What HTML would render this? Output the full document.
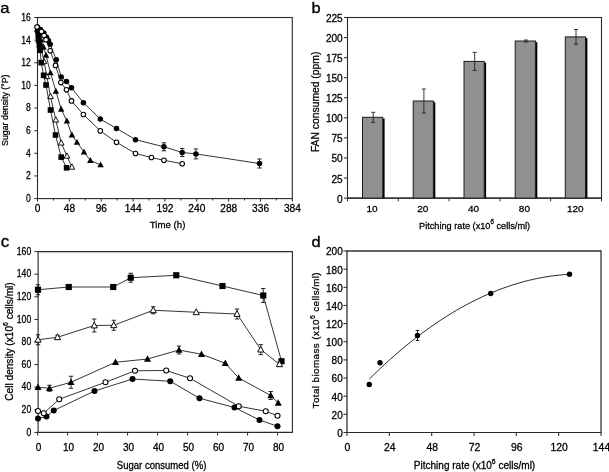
<!DOCTYPE html>
<html lang="en"><head><meta charset="utf-8"><title>Figure</title>
<style>
html,body{margin:0;padding:0;background:#fff;}
svg{display:block;font-family:"Liberation Sans", sans-serif;}
text{fill:#000;stroke:#000;stroke-width:0.28px;}
</style></head><body>
<svg width="609" height="472" viewBox="0 0 609 472">
<rect width="609" height="472" fill="#fff"/>
<rect x="37.5" y="17.5" width="254.80" height="181.10" fill="none" stroke="#2a2a2a" stroke-width="1.1"/>
<line x1="34.30" y1="198.60" x2="37.50" y2="198.60" stroke="#2a2a2a" stroke-width="1.0"/>
<text transform="translate(30.70 202.00) scale(0.86 1)" font-size="10.0" text-anchor="end">0</text>
<line x1="34.30" y1="175.96" x2="37.50" y2="175.96" stroke="#2a2a2a" stroke-width="1.0"/>
<text transform="translate(30.70 179.36) scale(0.86 1)" font-size="10.0" text-anchor="end">2</text>
<line x1="34.30" y1="153.32" x2="37.50" y2="153.32" stroke="#2a2a2a" stroke-width="1.0"/>
<text transform="translate(30.70 156.72) scale(0.86 1)" font-size="10.0" text-anchor="end">4</text>
<line x1="34.30" y1="130.69" x2="37.50" y2="130.69" stroke="#2a2a2a" stroke-width="1.0"/>
<text transform="translate(30.70 134.09) scale(0.86 1)" font-size="10.0" text-anchor="end">6</text>
<line x1="34.30" y1="108.05" x2="37.50" y2="108.05" stroke="#2a2a2a" stroke-width="1.0"/>
<text transform="translate(30.70 111.45) scale(0.86 1)" font-size="10.0" text-anchor="end">8</text>
<line x1="34.30" y1="85.41" x2="37.50" y2="85.41" stroke="#2a2a2a" stroke-width="1.0"/>
<text transform="translate(30.70 88.81) scale(0.86 1)" font-size="10.0" text-anchor="end">10</text>
<line x1="34.30" y1="62.78" x2="37.50" y2="62.78" stroke="#2a2a2a" stroke-width="1.0"/>
<text transform="translate(30.70 66.18) scale(0.86 1)" font-size="10.0" text-anchor="end">12</text>
<line x1="34.30" y1="40.14" x2="37.50" y2="40.14" stroke="#2a2a2a" stroke-width="1.0"/>
<text transform="translate(30.70 43.54) scale(0.86 1)" font-size="10.0" text-anchor="end">14</text>
<line x1="34.30" y1="17.50" x2="37.50" y2="17.50" stroke="#2a2a2a" stroke-width="1.0"/>
<text transform="translate(30.70 20.90) scale(0.86 1)" font-size="10.0" text-anchor="end">16</text>
<line x1="37.50" y1="198.60" x2="37.50" y2="201.60" stroke="#2a2a2a" stroke-width="1.0"/>
<text transform="translate(37.60 212.30) scale(0.97 1)" font-size="10.5" text-anchor="middle">0</text>
<line x1="53.43" y1="198.60" x2="53.43" y2="200.50" stroke="#2a2a2a" stroke-width="1.0"/>
<line x1="69.35" y1="198.60" x2="69.35" y2="201.60" stroke="#2a2a2a" stroke-width="1.0"/>
<text transform="translate(69.45 212.30) scale(0.97 1)" font-size="10.5" text-anchor="middle">48</text>
<line x1="85.28" y1="198.60" x2="85.28" y2="200.50" stroke="#2a2a2a" stroke-width="1.0"/>
<line x1="101.20" y1="198.60" x2="101.20" y2="201.60" stroke="#2a2a2a" stroke-width="1.0"/>
<text transform="translate(101.30 212.30) scale(0.97 1)" font-size="10.5" text-anchor="middle">96</text>
<line x1="117.12" y1="198.60" x2="117.12" y2="200.50" stroke="#2a2a2a" stroke-width="1.0"/>
<line x1="133.05" y1="198.60" x2="133.05" y2="201.60" stroke="#2a2a2a" stroke-width="1.0"/>
<text transform="translate(133.15 212.30) scale(0.97 1)" font-size="10.5" text-anchor="middle">144</text>
<line x1="148.98" y1="198.60" x2="148.98" y2="200.50" stroke="#2a2a2a" stroke-width="1.0"/>
<line x1="164.90" y1="198.60" x2="164.90" y2="201.60" stroke="#2a2a2a" stroke-width="1.0"/>
<text transform="translate(165.00 212.30) scale(0.97 1)" font-size="10.5" text-anchor="middle">192</text>
<line x1="180.83" y1="198.60" x2="180.83" y2="200.50" stroke="#2a2a2a" stroke-width="1.0"/>
<line x1="196.75" y1="198.60" x2="196.75" y2="201.60" stroke="#2a2a2a" stroke-width="1.0"/>
<text transform="translate(196.85 212.30) scale(0.97 1)" font-size="10.5" text-anchor="middle">240</text>
<line x1="212.67" y1="198.60" x2="212.67" y2="200.50" stroke="#2a2a2a" stroke-width="1.0"/>
<line x1="228.60" y1="198.60" x2="228.60" y2="201.60" stroke="#2a2a2a" stroke-width="1.0"/>
<text transform="translate(228.70 212.30) scale(0.97 1)" font-size="10.5" text-anchor="middle">288</text>
<line x1="244.53" y1="198.60" x2="244.53" y2="200.50" stroke="#2a2a2a" stroke-width="1.0"/>
<line x1="260.45" y1="198.60" x2="260.45" y2="201.60" stroke="#2a2a2a" stroke-width="1.0"/>
<text transform="translate(260.55 212.30) scale(0.97 1)" font-size="10.5" text-anchor="middle">336</text>
<line x1="276.38" y1="198.60" x2="276.38" y2="200.50" stroke="#2a2a2a" stroke-width="1.0"/>
<line x1="292.30" y1="198.60" x2="292.30" y2="201.60" stroke="#2a2a2a" stroke-width="1.0"/>
<text transform="translate(292.40 212.30) scale(0.97 1)" font-size="10.5" text-anchor="middle">384</text>
<text transform="translate(167.60 228.30) scale(1 1)" font-size="9.66" text-anchor="middle">Time (h)</text>
<text transform="translate(7.80 110.20) rotate(-90) scale(1 1)" font-size="8.811" text-anchor="middle">Sugar density (°P)</text>
<text transform="translate(4.90 13.00) scale(1.08 1)" font-size="15.4" text-anchor="middle" style="stroke-width:0.32px">a</text>
<polyline points="37.50,27.00 40.50,29.50 43.80,33.00 46.50,37.20 48.40,40.60 50.20,44.30 56.30,59.70 61.20,77.10 66.50,81.50 71.50,87.80 83.40,102.70 100.30,119.10 116.50,128.40 135.50,139.70 163.90,146.80 182.20,152.50 195.90,153.90 259.50,163.50" fill="none" stroke="#111" stroke-width="0.85" stroke-linejoin="round"/>
<line x1="163.90" y1="142.80" x2="163.90" y2="150.80" stroke="#111" stroke-width="0.9"/>
<line x1="161.70" y1="142.80" x2="166.10" y2="142.80" stroke="#111" stroke-width="0.9"/>
<line x1="161.70" y1="150.80" x2="166.10" y2="150.80" stroke="#111" stroke-width="0.9"/>
<line x1="182.20" y1="148.50" x2="182.20" y2="156.50" stroke="#111" stroke-width="0.9"/>
<line x1="180.00" y1="148.50" x2="184.40" y2="148.50" stroke="#111" stroke-width="0.9"/>
<line x1="180.00" y1="156.50" x2="184.40" y2="156.50" stroke="#111" stroke-width="0.9"/>
<line x1="195.90" y1="148.90" x2="195.90" y2="158.90" stroke="#111" stroke-width="0.9"/>
<line x1="193.70" y1="148.90" x2="198.10" y2="148.90" stroke="#111" stroke-width="0.9"/>
<line x1="193.70" y1="158.90" x2="198.10" y2="158.90" stroke="#111" stroke-width="0.9"/>
<line x1="259.50" y1="159.00" x2="259.50" y2="168.00" stroke="#111" stroke-width="0.9"/>
<line x1="257.30" y1="159.00" x2="261.70" y2="159.00" stroke="#111" stroke-width="0.9"/>
<line x1="257.30" y1="168.00" x2="261.70" y2="168.00" stroke="#111" stroke-width="0.9"/>
<circle cx="37.50" cy="27.00" r="2.75" fill="#000"/>
<circle cx="40.50" cy="29.50" r="2.75" fill="#000"/>
<circle cx="43.80" cy="33.00" r="2.75" fill="#000"/>
<circle cx="46.50" cy="37.20" r="2.75" fill="#000"/>
<circle cx="48.40" cy="40.60" r="2.75" fill="#000"/>
<circle cx="50.20" cy="44.30" r="2.75" fill="#000"/>
<circle cx="56.30" cy="59.70" r="2.75" fill="#000"/>
<circle cx="61.20" cy="77.10" r="2.75" fill="#000"/>
<circle cx="66.50" cy="81.50" r="2.75" fill="#000"/>
<circle cx="71.50" cy="87.80" r="2.75" fill="#000"/>
<circle cx="83.40" cy="102.70" r="2.75" fill="#000"/>
<circle cx="100.30" cy="119.10" r="2.75" fill="#000"/>
<circle cx="116.50" cy="128.40" r="2.75" fill="#000"/>
<circle cx="135.50" cy="139.70" r="2.75" fill="#000"/>
<circle cx="163.90" cy="146.80" r="2.75" fill="#000"/>
<circle cx="182.20" cy="152.50" r="2.75" fill="#000"/>
<circle cx="195.90" cy="153.90" r="2.75" fill="#000"/>
<circle cx="259.50" cy="163.50" r="2.75" fill="#000"/>
<polyline points="37.50,29.50 39.00,34.00 41.00,40.00 43.50,47.00 46.00,55.20 50.50,72.80 55.90,91.20 61.20,109.20 66.90,121.00 71.90,135.00 77.00,142.30 84.00,152.00 90.30,160.40 100.60,164.80" fill="none" stroke="#111" stroke-width="0.85" stroke-linejoin="round"/>
<polygon points="37.50,26.10 34.30,32.00 40.70,32.00" fill="#000"/>
<polygon points="39.00,30.60 35.80,36.50 42.20,36.50" fill="#000"/>
<polygon points="41.00,36.60 37.80,42.50 44.20,42.50" fill="#000"/>
<polygon points="43.50,43.60 40.30,49.50 46.70,49.50" fill="#000"/>
<polygon points="46.00,51.80 42.80,57.70 49.20,57.70" fill="#000"/>
<polygon points="50.50,69.40 47.30,75.30 53.70,75.30" fill="#000"/>
<polygon points="55.90,87.80 52.70,93.70 59.10,93.70" fill="#000"/>
<polygon points="61.20,105.80 58.00,111.70 64.40,111.70" fill="#000"/>
<polygon points="66.90,117.60 63.70,123.50 70.10,123.50" fill="#000"/>
<polygon points="71.90,131.60 68.70,137.50 75.10,137.50" fill="#000"/>
<polygon points="77.00,138.90 73.80,144.80 80.20,144.80" fill="#000"/>
<polygon points="84.00,148.60 80.80,154.50 87.20,154.50" fill="#000"/>
<polygon points="90.30,157.00 87.10,162.90 93.50,162.90" fill="#000"/>
<polygon points="100.60,161.40 97.40,167.30 103.80,167.30" fill="#000"/>
<polyline points="37.50,29.00 39.00,37.00 41.00,47.00 44.00,61.50 46.90,76.50 50.50,96.40 55.80,119.90 61.20,142.90 66.90,156.00 71.90,167.00" fill="none" stroke="#111" stroke-width="0.85" stroke-linejoin="round"/>
<polygon points="37.50,25.90 34.70,31.20 40.30,31.20" fill="#fff" stroke="#000" stroke-width="0.95"/>
<polygon points="39.00,33.90 36.20,39.20 41.80,39.20" fill="#fff" stroke="#000" stroke-width="0.95"/>
<polygon points="41.00,43.90 38.20,49.20 43.80,49.20" fill="#fff" stroke="#000" stroke-width="0.95"/>
<polygon points="44.00,58.40 41.20,63.70 46.80,63.70" fill="#fff" stroke="#000" stroke-width="0.95"/>
<polygon points="46.90,73.40 44.10,78.70 49.70,78.70" fill="#fff" stroke="#000" stroke-width="0.95"/>
<polygon points="50.50,93.30 47.70,98.60 53.30,98.60" fill="#fff" stroke="#000" stroke-width="0.95"/>
<polygon points="55.80,116.80 53.00,122.10 58.60,122.10" fill="#fff" stroke="#000" stroke-width="0.95"/>
<polygon points="61.20,139.80 58.40,145.10 64.00,145.10" fill="#fff" stroke="#000" stroke-width="0.95"/>
<polygon points="66.90,152.90 64.10,158.20 69.70,158.20" fill="#fff" stroke="#000" stroke-width="0.95"/>
<polygon points="71.90,163.90 69.10,169.20 74.70,169.20" fill="#fff" stroke="#000" stroke-width="0.95"/>
<polyline points="37.80,30.50 38.20,35.50 38.60,40.50 39.40,45.50 40.20,50.30 41.20,62.60 43.60,75.30 46.00,85.00 50.50,110.00 55.50,135.00 61.20,157.10 66.60,167.80" fill="none" stroke="#111" stroke-width="0.85" stroke-linejoin="round"/>
<rect x="35.00" y="27.70" width="5.60" height="5.60" fill="#000"/>
<rect x="35.40" y="32.70" width="5.60" height="5.60" fill="#000"/>
<rect x="35.80" y="37.70" width="5.60" height="5.60" fill="#000"/>
<rect x="36.60" y="42.70" width="5.60" height="5.60" fill="#000"/>
<rect x="37.40" y="47.50" width="5.60" height="5.60" fill="#000"/>
<rect x="38.40" y="59.80" width="5.60" height="5.60" fill="#000"/>
<rect x="40.80" y="72.50" width="5.60" height="5.60" fill="#000"/>
<rect x="43.20" y="82.20" width="5.60" height="5.60" fill="#000"/>
<rect x="47.70" y="107.20" width="5.60" height="5.60" fill="#000"/>
<rect x="52.70" y="132.20" width="5.60" height="5.60" fill="#000"/>
<rect x="58.40" y="154.30" width="5.60" height="5.60" fill="#000"/>
<rect x="63.80" y="165.00" width="5.60" height="5.60" fill="#000"/>
<polyline points="37.00,27.00 41.50,31.50 44.10,35.60 46.00,39.70 50.20,50.70 55.50,65.40 60.90,82.60 66.50,89.80 71.50,100.90 83.40,114.50 100.30,130.90 116.50,142.30 135.50,153.50 151.40,157.50 163.90,160.30 182.20,163.70" fill="none" stroke="#111" stroke-width="0.85" stroke-linejoin="round"/>
<circle cx="37.00" cy="27.00" r="2.30" fill="#fff" stroke="#000" stroke-width="1.05"/>
<circle cx="41.50" cy="31.50" r="2.30" fill="#fff" stroke="#000" stroke-width="1.05"/>
<circle cx="44.10" cy="35.60" r="2.30" fill="#fff" stroke="#000" stroke-width="1.05"/>
<circle cx="46.00" cy="39.70" r="2.30" fill="#fff" stroke="#000" stroke-width="1.05"/>
<circle cx="50.20" cy="50.70" r="2.30" fill="#fff" stroke="#000" stroke-width="1.05"/>
<circle cx="55.50" cy="65.40" r="2.30" fill="#fff" stroke="#000" stroke-width="1.05"/>
<circle cx="60.90" cy="82.60" r="2.30" fill="#fff" stroke="#000" stroke-width="1.05"/>
<circle cx="66.50" cy="89.80" r="2.30" fill="#fff" stroke="#000" stroke-width="1.05"/>
<circle cx="71.50" cy="100.90" r="2.30" fill="#fff" stroke="#000" stroke-width="1.05"/>
<circle cx="83.40" cy="114.50" r="2.30" fill="#fff" stroke="#000" stroke-width="1.05"/>
<circle cx="100.30" cy="130.90" r="2.30" fill="#fff" stroke="#000" stroke-width="1.05"/>
<circle cx="116.50" cy="142.30" r="2.30" fill="#fff" stroke="#000" stroke-width="1.05"/>
<circle cx="135.50" cy="153.50" r="2.30" fill="#fff" stroke="#000" stroke-width="1.05"/>
<circle cx="151.40" cy="157.50" r="2.30" fill="#fff" stroke="#000" stroke-width="1.05"/>
<circle cx="163.90" cy="160.30" r="2.30" fill="#fff" stroke="#000" stroke-width="1.05"/>
<circle cx="182.20" cy="163.70" r="2.30" fill="#fff" stroke="#000" stroke-width="1.05"/>
<rect x="347.5" y="17.5" width="254.00" height="180.60" fill="none" stroke="#2a2a2a" stroke-width="1.1"/>
<line x1="347.50" y1="198.10" x2="601.50" y2="198.10" stroke="#2a2a2a" stroke-width="1.3"/>
<line x1="344.00" y1="198.10" x2="347.50" y2="198.10" stroke="#2a2a2a" stroke-width="1.0"/>
<text transform="translate(342.70 202.60) scale(0.99 1)" font-size="10.2" text-anchor="end">0</text>
<line x1="344.00" y1="178.03" x2="347.50" y2="178.03" stroke="#2a2a2a" stroke-width="1.0"/>
<text transform="translate(342.70 182.53) scale(0.99 1)" font-size="10.2" text-anchor="end">25</text>
<line x1="344.00" y1="157.97" x2="347.50" y2="157.97" stroke="#2a2a2a" stroke-width="1.0"/>
<text transform="translate(342.70 162.47) scale(0.99 1)" font-size="10.2" text-anchor="end">50</text>
<line x1="344.00" y1="137.90" x2="347.50" y2="137.90" stroke="#2a2a2a" stroke-width="1.0"/>
<text transform="translate(342.70 142.40) scale(0.99 1)" font-size="10.2" text-anchor="end">75</text>
<line x1="344.00" y1="117.83" x2="347.50" y2="117.83" stroke="#2a2a2a" stroke-width="1.0"/>
<text transform="translate(342.70 122.33) scale(0.99 1)" font-size="10.2" text-anchor="end">100</text>
<line x1="344.00" y1="97.77" x2="347.50" y2="97.77" stroke="#2a2a2a" stroke-width="1.0"/>
<text transform="translate(342.70 102.27) scale(0.99 1)" font-size="10.2" text-anchor="end">125</text>
<line x1="344.00" y1="77.70" x2="347.50" y2="77.70" stroke="#2a2a2a" stroke-width="1.0"/>
<text transform="translate(342.70 82.20) scale(0.99 1)" font-size="10.2" text-anchor="end">150</text>
<line x1="344.00" y1="57.63" x2="347.50" y2="57.63" stroke="#2a2a2a" stroke-width="1.0"/>
<text transform="translate(342.70 62.13) scale(0.99 1)" font-size="10.2" text-anchor="end">175</text>
<line x1="344.00" y1="37.57" x2="347.50" y2="37.57" stroke="#2a2a2a" stroke-width="1.0"/>
<text transform="translate(342.70 42.07) scale(0.99 1)" font-size="10.2" text-anchor="end">200</text>
<line x1="344.00" y1="17.50" x2="347.50" y2="17.50" stroke="#2a2a2a" stroke-width="1.0"/>
<text transform="translate(342.70 22.00) scale(0.99 1)" font-size="10.2" text-anchor="end">225</text>
<line x1="347.50" y1="198.10" x2="347.50" y2="201.30" stroke="#2a2a2a" stroke-width="1.0"/>
<line x1="398.30" y1="198.10" x2="398.30" y2="201.30" stroke="#2a2a2a" stroke-width="1.0"/>
<line x1="449.10" y1="198.10" x2="449.10" y2="201.30" stroke="#2a2a2a" stroke-width="1.0"/>
<line x1="499.90" y1="198.10" x2="499.90" y2="201.30" stroke="#2a2a2a" stroke-width="1.0"/>
<line x1="550.70" y1="198.10" x2="550.70" y2="201.30" stroke="#2a2a2a" stroke-width="1.0"/>
<line x1="601.50" y1="198.10" x2="601.50" y2="201.30" stroke="#2a2a2a" stroke-width="1.0"/>
<text transform="translate(372.00 211.70) scale(1.04 1)" font-size="9.6" text-anchor="middle">10</text>
<text transform="translate(422.80 211.70) scale(1.04 1)" font-size="9.6" text-anchor="middle">20</text>
<text transform="translate(473.60 211.70) scale(1.04 1)" font-size="9.6" text-anchor="middle">40</text>
<text transform="translate(524.40 211.70) scale(1.04 1)" font-size="9.6" text-anchor="middle">80</text>
<text transform="translate(575.20 211.70) scale(1.04 1)" font-size="9.6" text-anchor="middle">120</text>
<rect x="382.70" y="118.50" width="1.9" height="79.60" fill="#000"/>
<rect x="362.50" y="117.30" width="20.2" height="80.80" fill="#909090" stroke="#1c1c1c" stroke-width="1"/>
<line x1="373.20" y1="112.30" x2="373.20" y2="122.30" stroke="#222" stroke-width="0.9"/>
<line x1="371.20" y1="112.30" x2="375.20" y2="112.30" stroke="#222" stroke-width="0.9"/>
<line x1="371.20" y1="122.30" x2="375.20" y2="122.30" stroke="#222" stroke-width="0.9"/>
<rect x="433.40" y="102.20" width="1.9" height="95.90" fill="#000"/>
<rect x="413.20" y="101.00" width="20.2" height="97.10" fill="#909090" stroke="#1c1c1c" stroke-width="1"/>
<line x1="423.90" y1="89.00" x2="423.90" y2="113.00" stroke="#222" stroke-width="0.9"/>
<line x1="421.90" y1="89.00" x2="425.90" y2="89.00" stroke="#222" stroke-width="0.9"/>
<line x1="421.90" y1="113.00" x2="425.90" y2="113.00" stroke="#222" stroke-width="0.9"/>
<rect x="484.20" y="62.60" width="1.9" height="135.50" fill="#000"/>
<rect x="464.00" y="61.40" width="20.2" height="136.70" fill="#909090" stroke="#1c1c1c" stroke-width="1"/>
<line x1="474.70" y1="52.40" x2="474.70" y2="70.40" stroke="#222" stroke-width="0.9"/>
<line x1="472.70" y1="52.40" x2="476.70" y2="52.40" stroke="#222" stroke-width="0.9"/>
<line x1="472.70" y1="70.40" x2="476.70" y2="70.40" stroke="#222" stroke-width="0.9"/>
<rect x="535.40" y="42.20" width="1.9" height="155.90" fill="#000"/>
<rect x="515.20" y="41.00" width="20.2" height="157.10" fill="#909090" stroke="#1c1c1c" stroke-width="1"/>
<line x1="525.90" y1="40.00" x2="525.90" y2="42.00" stroke="#222" stroke-width="0.9"/>
<line x1="523.90" y1="40.00" x2="527.90" y2="40.00" stroke="#222" stroke-width="0.9"/>
<line x1="523.90" y1="42.00" x2="527.90" y2="42.00" stroke="#222" stroke-width="0.9"/>
<rect x="585.50" y="38.10" width="1.9" height="160.00" fill="#000"/>
<rect x="565.30" y="36.90" width="20.2" height="161.20" fill="#909090" stroke="#1c1c1c" stroke-width="1"/>
<line x1="576.00" y1="29.50" x2="576.00" y2="44.30" stroke="#222" stroke-width="0.9"/>
<line x1="574.00" y1="29.50" x2="578.00" y2="29.50" stroke="#222" stroke-width="0.9"/>
<line x1="574.00" y1="44.30" x2="578.00" y2="44.30" stroke="#222" stroke-width="0.9"/>
<text transform="translate(474.60 228.60) scale(0.9374 1)" font-size="9.8" text-anchor="middle">Pitching rate (x10<tspan dy="-4.21" font-size="6.66">6</tspan><tspan dy="4.21"> cells/ml)</tspan></text>
<text transform="translate(319.00 101.90) rotate(-90) scale(1 1)" font-size="10.343" text-anchor="middle">FAN consumed (ppm)</text>
<text transform="translate(316.00 12.60) scale(1.08 1)" font-size="15.2" text-anchor="middle" style="stroke-width:0.32px">b</text>
<line x1="38.10" y1="251.05" x2="38.10" y2="432.95" stroke="#333" stroke-width="1.2"/>
<line x1="292.40" y1="251.05" x2="292.40" y2="432.95" stroke="#2a2a2a" stroke-width="1.1"/>
<line x1="38.10" y1="251.60" x2="292.40" y2="251.60" stroke="#2a2a2a" stroke-width="1.1"/>
<line x1="38.10" y1="432.40" x2="292.40" y2="432.40" stroke="#2a2a2a" stroke-width="1.1"/>
<line x1="34.30" y1="432.40" x2="38.10" y2="432.40" stroke="#2a2a2a" stroke-width="1.0"/>
<text transform="translate(31.20 435.60) scale(0.865 1)" font-size="10.0" text-anchor="end">0</text>
<line x1="34.30" y1="409.80" x2="38.10" y2="409.80" stroke="#2a2a2a" stroke-width="1.0"/>
<text transform="translate(31.20 413.00) scale(0.865 1)" font-size="10.0" text-anchor="end">20</text>
<line x1="34.30" y1="387.20" x2="38.10" y2="387.20" stroke="#2a2a2a" stroke-width="1.0"/>
<text transform="translate(31.20 390.40) scale(0.865 1)" font-size="10.0" text-anchor="end">40</text>
<line x1="34.30" y1="364.60" x2="38.10" y2="364.60" stroke="#2a2a2a" stroke-width="1.0"/>
<text transform="translate(31.20 367.80) scale(0.865 1)" font-size="10.0" text-anchor="end">60</text>
<line x1="34.30" y1="342.00" x2="38.10" y2="342.00" stroke="#2a2a2a" stroke-width="1.0"/>
<text transform="translate(31.20 345.20) scale(0.865 1)" font-size="10.0" text-anchor="end">80</text>
<line x1="34.30" y1="319.40" x2="38.10" y2="319.40" stroke="#2a2a2a" stroke-width="1.0"/>
<text transform="translate(31.20 322.60) scale(0.865 1)" font-size="10.0" text-anchor="end">100</text>
<line x1="34.30" y1="296.80" x2="38.10" y2="296.80" stroke="#2a2a2a" stroke-width="1.0"/>
<text transform="translate(31.20 300.00) scale(0.865 1)" font-size="10.0" text-anchor="end">120</text>
<line x1="34.30" y1="274.20" x2="38.10" y2="274.20" stroke="#2a2a2a" stroke-width="1.0"/>
<text transform="translate(31.20 277.40) scale(0.865 1)" font-size="10.0" text-anchor="end">140</text>
<line x1="34.30" y1="251.60" x2="38.10" y2="251.60" stroke="#2a2a2a" stroke-width="1.0"/>
<text transform="translate(31.20 254.80) scale(0.865 1)" font-size="10.0" text-anchor="end">160</text>
<line x1="37.60" y1="432.40" x2="37.60" y2="435.60" stroke="#2a2a2a" stroke-width="1.0"/>
<text transform="translate(38.50 450.80) scale(1.0 1)" font-size="10.0" text-anchor="middle">0</text>
<line x1="67.60" y1="432.40" x2="67.60" y2="435.60" stroke="#2a2a2a" stroke-width="1.0"/>
<text transform="translate(68.50 450.80) scale(1.0 1)" font-size="10.0" text-anchor="middle">10</text>
<line x1="97.60" y1="432.40" x2="97.60" y2="435.60" stroke="#2a2a2a" stroke-width="1.0"/>
<text transform="translate(98.50 450.80) scale(1.0 1)" font-size="10.0" text-anchor="middle">20</text>
<line x1="127.60" y1="432.40" x2="127.60" y2="435.60" stroke="#2a2a2a" stroke-width="1.0"/>
<text transform="translate(128.50 450.80) scale(1.0 1)" font-size="10.0" text-anchor="middle">30</text>
<line x1="157.60" y1="432.40" x2="157.60" y2="435.60" stroke="#2a2a2a" stroke-width="1.0"/>
<text transform="translate(158.50 450.80) scale(1.0 1)" font-size="10.0" text-anchor="middle">40</text>
<line x1="187.60" y1="432.40" x2="187.60" y2="435.60" stroke="#2a2a2a" stroke-width="1.0"/>
<text transform="translate(188.50 450.80) scale(1.0 1)" font-size="10.0" text-anchor="middle">50</text>
<line x1="217.60" y1="432.40" x2="217.60" y2="435.60" stroke="#2a2a2a" stroke-width="1.0"/>
<text transform="translate(218.50 450.80) scale(1.0 1)" font-size="10.0" text-anchor="middle">60</text>
<line x1="247.60" y1="432.40" x2="247.60" y2="435.60" stroke="#2a2a2a" stroke-width="1.0"/>
<text transform="translate(248.50 450.80) scale(1.0 1)" font-size="10.0" text-anchor="middle">70</text>
<line x1="277.60" y1="432.40" x2="277.60" y2="435.60" stroke="#2a2a2a" stroke-width="1.0"/>
<text transform="translate(278.50 450.80) scale(1.0 1)" font-size="10.0" text-anchor="middle">80</text>
<text transform="translate(161.60 469.00) scale(0.9444 1)" font-size="10.1" text-anchor="middle">Sugar consumed (%)</text>
<text transform="translate(12.50 341.50) rotate(-90) scale(1 1)" font-size="10.124" text-anchor="middle">Cell density (x10<tspan dy="-4.35" font-size="6.88">6</tspan><tspan dy="4.35"> cells/ml)</tspan></text>
<text transform="translate(5.10 246.60) scale(1.06 1)" font-size="16.0" text-anchor="middle" style="stroke-width:0.32px">c</text>
<polyline points="38.00,289.75 68.75,287.00 113.25,287.00 130.75,277.75 176.25,275.25 222.50,286.00 263.25,295.50 281.50,361.25" fill="none" stroke="#111" stroke-width="0.85" stroke-linejoin="round"/>
<line x1="38.00" y1="284.75" x2="38.00" y2="294.75" stroke="#111" stroke-width="0.9"/>
<line x1="35.80" y1="284.75" x2="40.20" y2="284.75" stroke="#111" stroke-width="0.9"/>
<line x1="35.80" y1="294.75" x2="40.20" y2="294.75" stroke="#111" stroke-width="0.9"/>
<line x1="130.75" y1="273.25" x2="130.75" y2="282.25" stroke="#111" stroke-width="0.9"/>
<line x1="128.55" y1="273.25" x2="132.95" y2="273.25" stroke="#111" stroke-width="0.9"/>
<line x1="128.55" y1="282.25" x2="132.95" y2="282.25" stroke="#111" stroke-width="0.9"/>
<line x1="263.25" y1="288.50" x2="263.25" y2="302.50" stroke="#111" stroke-width="0.9"/>
<line x1="261.05" y1="288.50" x2="265.45" y2="288.50" stroke="#111" stroke-width="0.9"/>
<line x1="261.05" y1="302.50" x2="265.45" y2="302.50" stroke="#111" stroke-width="0.9"/>
<rect x="34.92" y="286.67" width="6.16" height="6.16" fill="#000"/>
<rect x="65.67" y="283.92" width="6.16" height="6.16" fill="#000"/>
<rect x="110.17" y="283.92" width="6.16" height="6.16" fill="#000"/>
<rect x="127.67" y="274.67" width="6.16" height="6.16" fill="#000"/>
<rect x="173.17" y="272.17" width="6.16" height="6.16" fill="#000"/>
<rect x="219.42" y="282.92" width="6.16" height="6.16" fill="#000"/>
<rect x="260.17" y="292.42" width="6.16" height="6.16" fill="#000"/>
<rect x="278.42" y="358.17" width="6.16" height="6.16" fill="#000"/>
<polyline points="38.00,339.75 57.50,337.25 94.25,325.50 113.75,325.25 153.25,310.25 196.25,312.25 237.00,314.00 260.75,349.60 279.50,364.25" fill="none" stroke="#111" stroke-width="0.85" stroke-linejoin="round"/>
<line x1="38.00" y1="334.75" x2="38.00" y2="344.75" stroke="#111" stroke-width="0.9"/>
<line x1="35.80" y1="334.75" x2="40.20" y2="334.75" stroke="#111" stroke-width="0.9"/>
<line x1="35.80" y1="344.75" x2="40.20" y2="344.75" stroke="#111" stroke-width="0.9"/>
<line x1="57.50" y1="335.25" x2="57.50" y2="339.25" stroke="#111" stroke-width="0.9"/>
<line x1="55.30" y1="335.25" x2="59.70" y2="335.25" stroke="#111" stroke-width="0.9"/>
<line x1="55.30" y1="339.25" x2="59.70" y2="339.25" stroke="#111" stroke-width="0.9"/>
<line x1="94.25" y1="319.00" x2="94.25" y2="332.00" stroke="#111" stroke-width="0.9"/>
<line x1="92.05" y1="319.00" x2="96.45" y2="319.00" stroke="#111" stroke-width="0.9"/>
<line x1="92.05" y1="332.00" x2="96.45" y2="332.00" stroke="#111" stroke-width="0.9"/>
<line x1="113.75" y1="320.25" x2="113.75" y2="330.25" stroke="#111" stroke-width="0.9"/>
<line x1="111.55" y1="320.25" x2="115.95" y2="320.25" stroke="#111" stroke-width="0.9"/>
<line x1="111.55" y1="330.25" x2="115.95" y2="330.25" stroke="#111" stroke-width="0.9"/>
<line x1="153.25" y1="306.75" x2="153.25" y2="313.75" stroke="#111" stroke-width="0.9"/>
<line x1="151.05" y1="306.75" x2="155.45" y2="306.75" stroke="#111" stroke-width="0.9"/>
<line x1="151.05" y1="313.75" x2="155.45" y2="313.75" stroke="#111" stroke-width="0.9"/>
<line x1="237.00" y1="309.00" x2="237.00" y2="319.00" stroke="#111" stroke-width="0.9"/>
<line x1="234.80" y1="309.00" x2="239.20" y2="309.00" stroke="#111" stroke-width="0.9"/>
<line x1="234.80" y1="319.00" x2="239.20" y2="319.00" stroke="#111" stroke-width="0.9"/>
<line x1="260.75" y1="344.60" x2="260.75" y2="354.60" stroke="#111" stroke-width="0.9"/>
<line x1="258.55" y1="344.60" x2="262.95" y2="344.60" stroke="#111" stroke-width="0.9"/>
<line x1="258.55" y1="354.60" x2="262.95" y2="354.60" stroke="#111" stroke-width="0.9"/>
<line x1="279.50" y1="362.25" x2="279.50" y2="366.25" stroke="#111" stroke-width="0.9"/>
<line x1="277.30" y1="362.25" x2="281.70" y2="362.25" stroke="#111" stroke-width="0.9"/>
<line x1="277.30" y1="366.25" x2="281.70" y2="366.25" stroke="#111" stroke-width="0.9"/>
<polygon points="38.00,336.34 34.92,342.17 41.08,342.17" fill="#fff" stroke="#000" stroke-width="0.95"/>
<polygon points="57.50,333.84 54.42,339.67 60.58,339.67" fill="#fff" stroke="#000" stroke-width="0.95"/>
<polygon points="94.25,322.09 91.17,327.92 97.33,327.92" fill="#fff" stroke="#000" stroke-width="0.95"/>
<polygon points="113.75,321.84 110.67,327.67 116.83,327.67" fill="#fff" stroke="#000" stroke-width="0.95"/>
<polygon points="153.25,306.84 150.17,312.67 156.33,312.67" fill="#fff" stroke="#000" stroke-width="0.95"/>
<polygon points="196.25,308.84 193.17,314.67 199.33,314.67" fill="#fff" stroke="#000" stroke-width="0.95"/>
<polygon points="237.00,310.59 233.92,316.42 240.08,316.42" fill="#fff" stroke="#000" stroke-width="0.95"/>
<polygon points="260.75,346.19 257.67,352.02 263.83,352.02" fill="#fff" stroke="#000" stroke-width="0.95"/>
<polygon points="279.50,360.84 276.42,366.67 282.58,366.67" fill="#fff" stroke="#000" stroke-width="0.95"/>
<polyline points="38.00,387.25 49.50,388.25 71.00,382.25 115.50,362.25 147.50,359.00 179.00,350.00 201.50,354.25 225.25,363.25 238.75,378.00 270.75,395.50 278.25,403.00" fill="none" stroke="#111" stroke-width="0.85" stroke-linejoin="round"/>
<line x1="49.50" y1="385.25" x2="49.50" y2="391.25" stroke="#111" stroke-width="0.9"/>
<line x1="47.30" y1="385.25" x2="51.70" y2="385.25" stroke="#111" stroke-width="0.9"/>
<line x1="47.30" y1="391.25" x2="51.70" y2="391.25" stroke="#111" stroke-width="0.9"/>
<line x1="71.00" y1="376.25" x2="71.00" y2="388.25" stroke="#111" stroke-width="0.9"/>
<line x1="68.80" y1="376.25" x2="73.20" y2="376.25" stroke="#111" stroke-width="0.9"/>
<line x1="68.80" y1="388.25" x2="73.20" y2="388.25" stroke="#111" stroke-width="0.9"/>
<line x1="179.00" y1="346.00" x2="179.00" y2="354.00" stroke="#111" stroke-width="0.9"/>
<line x1="176.80" y1="346.00" x2="181.20" y2="346.00" stroke="#111" stroke-width="0.9"/>
<line x1="176.80" y1="354.00" x2="181.20" y2="354.00" stroke="#111" stroke-width="0.9"/>
<line x1="270.75" y1="391.50" x2="270.75" y2="399.50" stroke="#111" stroke-width="0.9"/>
<line x1="268.55" y1="391.50" x2="272.95" y2="391.50" stroke="#111" stroke-width="0.9"/>
<line x1="268.55" y1="399.50" x2="272.95" y2="399.50" stroke="#111" stroke-width="0.9"/>
<polygon points="38.00,383.51 34.48,390.00 41.52,390.00" fill="#000"/>
<polygon points="49.50,384.51 45.98,391.00 53.02,391.00" fill="#000"/>
<polygon points="71.00,378.51 67.48,385.00 74.52,385.00" fill="#000"/>
<polygon points="115.50,358.51 111.98,365.00 119.02,365.00" fill="#000"/>
<polygon points="147.50,355.26 143.98,361.75 151.02,361.75" fill="#000"/>
<polygon points="179.00,346.26 175.48,352.75 182.52,352.75" fill="#000"/>
<polygon points="201.50,350.51 197.98,357.00 205.02,357.00" fill="#000"/>
<polygon points="225.25,359.51 221.73,366.00 228.77,366.00" fill="#000"/>
<polygon points="238.75,374.26 235.23,380.75 242.27,380.75" fill="#000"/>
<polygon points="270.75,391.76 267.23,398.25 274.27,398.25" fill="#000"/>
<polygon points="278.25,399.26 274.73,405.75 281.77,405.75" fill="#000"/>
<polyline points="38.00,418.50 46.50,416.50 53.75,410.50 94.50,391.00 132.50,379.00 170.25,381.25 199.50,398.25 234.50,407.50 259.50,420.00 277.50,426.25" fill="none" stroke="#111" stroke-width="0.85" stroke-linejoin="round"/>
<circle cx="38.00" cy="418.50" r="3.03" fill="#000"/>
<circle cx="46.50" cy="416.50" r="3.03" fill="#000"/>
<circle cx="53.75" cy="410.50" r="3.03" fill="#000"/>
<circle cx="94.50" cy="391.00" r="3.03" fill="#000"/>
<circle cx="132.50" cy="379.00" r="3.03" fill="#000"/>
<circle cx="170.25" cy="381.25" r="3.03" fill="#000"/>
<circle cx="199.50" cy="398.25" r="3.03" fill="#000"/>
<circle cx="234.50" cy="407.50" r="3.03" fill="#000"/>
<circle cx="259.50" cy="420.00" r="3.03" fill="#000"/>
<circle cx="277.50" cy="426.25" r="3.03" fill="#000"/>
<polyline points="38.00,411.00 43.75,413.25 59.25,399.25 105.50,382.25 135.00,370.75 166.25,370.50 190.00,378.25 238.75,406.25 265.75,411.25 277.50,415.75" fill="none" stroke="#111" stroke-width="0.85" stroke-linejoin="round"/>
<circle cx="38.00" cy="411.00" r="2.53" fill="#fff" stroke="#000" stroke-width="1.05"/>
<circle cx="43.75" cy="413.25" r="2.53" fill="#fff" stroke="#000" stroke-width="1.05"/>
<circle cx="59.25" cy="399.25" r="2.53" fill="#fff" stroke="#000" stroke-width="1.05"/>
<circle cx="105.50" cy="382.25" r="2.53" fill="#fff" stroke="#000" stroke-width="1.05"/>
<circle cx="135.00" cy="370.75" r="2.53" fill="#fff" stroke="#000" stroke-width="1.05"/>
<circle cx="166.25" cy="370.50" r="2.53" fill="#fff" stroke="#000" stroke-width="1.05"/>
<circle cx="190.00" cy="378.25" r="2.53" fill="#fff" stroke="#000" stroke-width="1.05"/>
<circle cx="238.75" cy="406.25" r="2.53" fill="#fff" stroke="#000" stroke-width="1.05"/>
<circle cx="265.75" cy="411.25" r="2.53" fill="#fff" stroke="#000" stroke-width="1.05"/>
<circle cx="277.50" cy="415.75" r="2.53" fill="#fff" stroke="#000" stroke-width="1.05"/>
<line x1="347.00" y1="250.35" x2="347.00" y2="433.10" stroke="#333" stroke-width="1.3"/>
<line x1="601.00" y1="250.35" x2="601.00" y2="433.10" stroke="#333" stroke-width="1.3"/>
<line x1="347.00" y1="251.00" x2="601.00" y2="251.00" stroke="#333" stroke-width="1.3"/>
<line x1="346.40" y1="432.50" x2="601.60" y2="432.50" stroke="#2a2a2a" stroke-width="1.2"/>
<line x1="343.50" y1="432.50" x2="347.00" y2="432.50" stroke="#333" stroke-width="1.1"/>
<text transform="translate(342.70 436.90) scale(1.0 1)" font-size="10.0" text-anchor="end">0</text>
<line x1="343.50" y1="414.35" x2="347.00" y2="414.35" stroke="#333" stroke-width="1.1"/>
<text transform="translate(342.70 418.75) scale(1.0 1)" font-size="10.0" text-anchor="end">20</text>
<line x1="343.50" y1="396.20" x2="347.00" y2="396.20" stroke="#333" stroke-width="1.1"/>
<text transform="translate(342.70 400.60) scale(1.0 1)" font-size="10.0" text-anchor="end">40</text>
<line x1="343.50" y1="378.05" x2="347.00" y2="378.05" stroke="#333" stroke-width="1.1"/>
<text transform="translate(342.70 382.45) scale(1.0 1)" font-size="10.0" text-anchor="end">60</text>
<line x1="343.50" y1="359.90" x2="347.00" y2="359.90" stroke="#333" stroke-width="1.1"/>
<text transform="translate(342.70 364.30) scale(1.0 1)" font-size="10.0" text-anchor="end">80</text>
<line x1="343.50" y1="341.75" x2="347.00" y2="341.75" stroke="#333" stroke-width="1.1"/>
<text transform="translate(342.70 346.15) scale(1.0 1)" font-size="10.0" text-anchor="end">100</text>
<line x1="343.50" y1="323.60" x2="347.00" y2="323.60" stroke="#333" stroke-width="1.1"/>
<text transform="translate(342.70 328.00) scale(1.0 1)" font-size="10.0" text-anchor="end">120</text>
<line x1="343.50" y1="305.45" x2="347.00" y2="305.45" stroke="#333" stroke-width="1.1"/>
<text transform="translate(342.70 309.85) scale(1.0 1)" font-size="10.0" text-anchor="end">140</text>
<line x1="343.50" y1="287.30" x2="347.00" y2="287.30" stroke="#333" stroke-width="1.1"/>
<text transform="translate(342.70 291.70) scale(1.0 1)" font-size="10.0" text-anchor="end">160</text>
<line x1="343.50" y1="269.15" x2="347.00" y2="269.15" stroke="#333" stroke-width="1.1"/>
<text transform="translate(342.70 273.55) scale(1.0 1)" font-size="10.0" text-anchor="end">180</text>
<line x1="343.50" y1="251.00" x2="347.00" y2="251.00" stroke="#333" stroke-width="1.1"/>
<text transform="translate(342.70 255.40) scale(1.0 1)" font-size="10.0" text-anchor="end">200</text>
<line x1="347.00" y1="432.50" x2="347.00" y2="436.00" stroke="#333" stroke-width="1.1"/>
<text transform="translate(347.50 450.70) scale(1.0 1)" font-size="10.4" text-anchor="middle">0</text>
<line x1="389.33" y1="432.50" x2="389.33" y2="436.00" stroke="#333" stroke-width="1.1"/>
<text transform="translate(389.83 450.70) scale(1.0 1)" font-size="10.4" text-anchor="middle">24</text>
<line x1="431.67" y1="432.50" x2="431.67" y2="436.00" stroke="#333" stroke-width="1.1"/>
<text transform="translate(432.17 450.70) scale(1.0 1)" font-size="10.4" text-anchor="middle">48</text>
<line x1="474.00" y1="432.50" x2="474.00" y2="436.00" stroke="#333" stroke-width="1.1"/>
<text transform="translate(474.50 450.70) scale(1.0 1)" font-size="10.4" text-anchor="middle">72</text>
<line x1="516.33" y1="432.50" x2="516.33" y2="436.00" stroke="#333" stroke-width="1.1"/>
<text transform="translate(516.83 450.70) scale(1.0 1)" font-size="10.4" text-anchor="middle">96</text>
<line x1="558.67" y1="432.50" x2="558.67" y2="436.00" stroke="#333" stroke-width="1.1"/>
<text transform="translate(559.17 450.70) scale(1.0 1)" font-size="10.4" text-anchor="middle">120</text>
<line x1="601.00" y1="432.50" x2="601.00" y2="436.00" stroke="#333" stroke-width="1.1"/>
<text transform="translate(601.50 450.70) scale(1.0 1)" font-size="10.4" text-anchor="middle">144</text>
<text transform="translate(474.50 468.80) scale(1 1)" font-size="10.046" text-anchor="middle">Pitching rate (x10<tspan dy="-4.32" font-size="6.83">6</tspan><tspan dy="4.32"> cells/ml)</tspan></text>
<text transform="translate(318.80 340.20) rotate(-90) scale(1 1)" font-size="9.9" text-anchor="middle" letter-spacing="0.395">Total biomass (x10<tspan dy="-4.26" font-size="6.73">6</tspan><tspan dy="4.26"> cells/ml)</tspan></text>
<text transform="translate(316.00 246.60) scale(1.08 1)" font-size="15.2" text-anchor="middle" style="stroke-width:0.32px">d</text>
<polyline points="369.25,379.08 374.38,374.05 379.52,369.13 384.65,364.35 389.79,359.68 394.92,355.14 400.06,350.72 405.19,346.43 410.33,342.26 415.46,338.22 420.60,334.29 425.73,330.49 430.87,326.82 436.00,323.27 441.13,319.84 446.27,316.53 451.40,313.35 456.54,310.29 461.67,307.36 466.81,304.55 471.94,301.86 477.08,299.30 482.21,296.86 487.35,294.55 492.48,292.35 497.62,290.29 502.75,288.34 507.88,286.52 513.02,284.82 518.15,283.25 523.29,281.80 528.42,280.47 533.56,279.27 538.69,278.19 543.83,277.23 548.96,276.40 554.10,275.69 559.23,275.10 564.37,274.64 569.50,274.30" fill="none" stroke="#111" stroke-width="0.9" stroke-linejoin="round"/>
<line x1="369.25" y1="383.00" x2="369.25" y2="386.00" stroke="#111" stroke-width="0.9"/>
<line x1="367.45" y1="383.00" x2="371.05" y2="383.00" stroke="#111" stroke-width="0.9"/>
<line x1="367.45" y1="386.00" x2="371.05" y2="386.00" stroke="#111" stroke-width="0.9"/>
<circle cx="369.25" cy="384.50" r="2.7" fill="#000"/>
<circle cx="380.00" cy="362.75" r="2.7" fill="#000"/>
<line x1="417.50" y1="330.50" x2="417.50" y2="340.50" stroke="#111" stroke-width="0.9"/>
<line x1="415.70" y1="330.50" x2="419.30" y2="330.50" stroke="#111" stroke-width="0.9"/>
<line x1="415.70" y1="340.50" x2="419.30" y2="340.50" stroke="#111" stroke-width="0.9"/>
<circle cx="417.50" cy="335.50" r="2.7" fill="#000"/>
<circle cx="490.75" cy="293.50" r="2.7" fill="#000"/>
<circle cx="569.50" cy="274.25" r="2.7" fill="#000"/>
</svg>
</body></html>
